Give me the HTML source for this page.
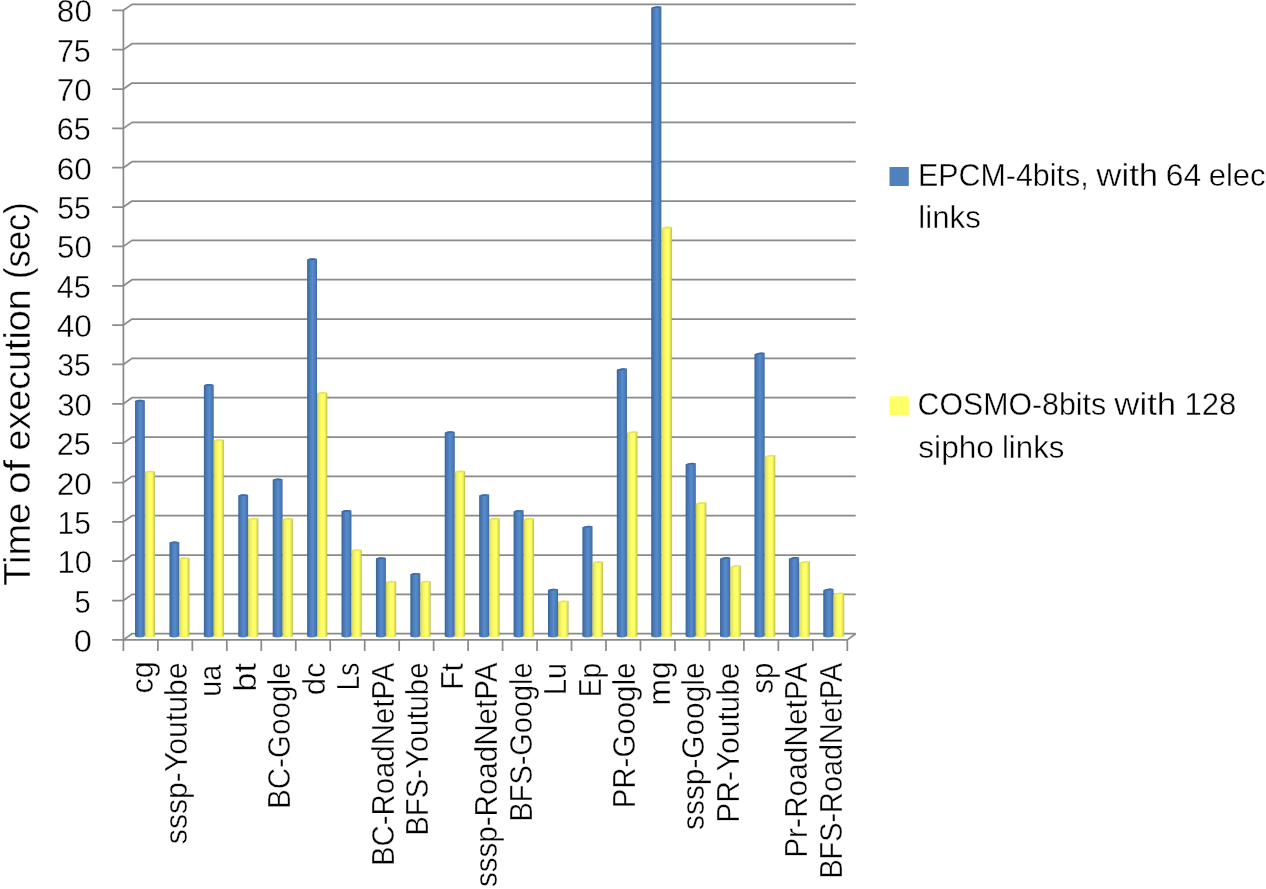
<!DOCTYPE html>
<html lang="en"><head><meta charset="utf-8"><title>Time of execution</title>
<style>html,body{margin:0;padding:0;background:#fff;}body{width:1266px;height:889px;overflow:hidden;}svg{display:block;}text{font-family:"Liberation Sans",sans-serif;fill:#000;stroke:#fff;stroke-width:0.4px;}</style>
</head><body>
<svg width="1266" height="889" viewBox="0 0 1266 889">
<defs>
<linearGradient id="gb" x1="0" x2="1" y1="0" y2="0"><stop offset="0" stop-color="#35608F"/><stop offset="0.15" stop-color="#4273AE"/><stop offset="0.55" stop-color="#588CCE"/><stop offset="0.85" stop-color="#4A78B4"/><stop offset="1" stop-color="#40699C"/></linearGradient>
<linearGradient id="gy" x1="0" x2="1" y1="0" y2="0"><stop offset="0" stop-color="#C2C23C"/><stop offset="0.12" stop-color="#E6E65C"/><stop offset="0.45" stop-color="#FFFF6A"/><stop offset="0.7" stop-color="#FFFF68"/><stop offset="0.9" stop-color="#DCDC50"/><stop offset="1" stop-color="#B0B052"/></linearGradient>
</defs>
<rect width="1266" height="889" fill="#fff"/>
<g fill="none" stroke="#8A8A8A" stroke-width="1.75" stroke-linejoin="round">
<path d="M112.2 639.90H123.4 L132.0 633.70H855.7"/>
<path d="M112.2 600.55H123.4 L132.0 594.37H855.7"/>
<path d="M112.2 561.20H123.4 L132.0 555.04H855.7"/>
<path d="M112.2 521.85H123.4 L132.0 515.71H855.7"/>
<path d="M112.2 482.50H123.4 L132.0 476.38H855.7"/>
<path d="M112.2 443.15H123.4 L132.0 437.04H855.7"/>
<path d="M112.2 403.80H123.4 L132.0 397.71H855.7"/>
<path d="M112.2 364.45H123.4 L132.0 358.38H855.7"/>
<path d="M112.2 325.10H123.4 L132.0 319.05H855.7"/>
<path d="M112.2 285.75H123.4 L132.0 279.72H855.7"/>
<path d="M112.2 246.40H123.4 L132.0 240.39H855.7"/>
<path d="M112.2 207.05H123.4 L132.0 201.06H855.7"/>
<path d="M112.2 167.70H123.4 L132.0 161.73H855.7"/>
<path d="M112.2 128.35H123.4 L132.0 122.39H855.7"/>
<path d="M112.2 89.00H123.4 L132.0 83.06H855.7"/>
<path d="M112.2 49.65H123.4 L132.0 43.73H855.7"/>
<path d="M112.2 10.30H123.4 L132.0 4.40H855.7"/>
<path d="M123.4 10.30V639.9"/>
<path d="M123.4 639.9H847.3L855.7 633.7"/>
<path d="M123.40 639.9V651"/>
<path d="M157.87 639.9V651"/>
<path d="M192.34 639.9V651"/>
<path d="M226.81 639.9V651"/>
<path d="M261.29 639.9V651"/>
<path d="M295.76 639.9V651"/>
<path d="M330.23 639.9V651"/>
<path d="M364.70 639.9V651"/>
<path d="M399.17 639.9V651"/>
<path d="M433.64 639.9V651"/>
<path d="M468.11 639.9V651"/>
<path d="M502.59 639.9V651"/>
<path d="M537.06 639.9V651"/>
<path d="M571.53 639.9V651"/>
<path d="M606.00 639.9V651"/>
<path d="M640.47 639.9V651"/>
<path d="M674.94 639.9V651"/>
<path d="M709.41 639.9V651"/>
<path d="M743.89 639.9V651"/>
<path d="M778.36 639.9V651"/>
<path d="M812.83 639.9V651"/>
<path d="M847.30 639.9V651"/>
</g>
<g>
<path d="M135.05 400.90 Q139.95 398.80 144.84 400.70 V636.30 Q139.95 638.50 135.05 636.60Z" fill="url(#gb)"/>
<path d="M135.05 400.90 Q139.95 398.80 144.84 400.70 Q139.95 402.80 135.05 400.90Z" fill="#3F6BA3"/>
<path d="M144.84 471.73 Q149.90 469.63 154.95 471.53 V636.30 Q149.90 638.50 144.84 636.60Z" fill="url(#gy)"/>
<path d="M144.84 471.73 Q149.90 469.63 154.95 471.53 Q149.90 473.63 144.84 471.73Z" fill="#E6E65E"/>
<path d="M169.46 542.59 Q174.37 540.46 179.28 542.33 V636.30 Q174.37 638.50 169.46 636.60Z" fill="url(#gb)"/>
<path d="M169.46 542.59 Q174.37 540.46 179.28 542.33 Q174.37 544.46 169.46 542.59Z" fill="#3F6BA3"/>
<path d="M179.28 558.33 Q184.34 556.20 189.41 558.07 V636.30 Q184.34 638.50 179.28 636.60Z" fill="url(#gy)"/>
<path d="M179.28 558.33 Q184.34 556.20 189.41 558.07 Q184.34 560.20 179.28 558.33Z" fill="#E6E65E"/>
<path d="M203.87 385.21 Q208.79 383.06 213.71 384.90 V636.30 Q208.79 638.50 203.87 636.60Z" fill="url(#gb)"/>
<path d="M203.87 385.21 Q208.79 383.06 213.71 384.90 Q208.79 387.06 203.87 385.21Z" fill="#3F6BA3"/>
<path d="M213.71 440.30 Q218.79 438.15 223.87 440.00 V636.30 Q218.79 638.50 213.71 636.60Z" fill="url(#gy)"/>
<path d="M213.71 440.30 Q218.79 438.15 223.87 440.00 Q218.79 442.15 213.71 440.30Z" fill="#E6E65E"/>
<path d="M238.28 495.42 Q243.22 493.24 248.15 495.06 V636.30 Q243.22 638.50 238.28 636.60Z" fill="url(#gb)"/>
<path d="M238.28 495.42 Q243.22 493.24 248.15 495.06 Q243.22 497.24 238.28 495.42Z" fill="#3F6BA3"/>
<path d="M248.15 519.03 Q253.24 516.85 258.33 518.67 V636.30 Q253.24 638.50 248.15 636.60Z" fill="url(#gy)"/>
<path d="M248.15 519.03 Q253.24 516.85 258.33 518.67 Q253.24 520.85 248.15 519.03Z" fill="#E6E65E"/>
<path d="M272.70 479.71 Q277.64 477.50 282.58 479.29 V636.30 Q277.64 638.50 272.70 636.60Z" fill="url(#gb)"/>
<path d="M272.70 479.71 Q277.64 477.50 282.58 479.29 Q277.64 481.50 272.70 479.71Z" fill="#3F6BA3"/>
<path d="M282.58 519.06 Q287.69 516.85 292.80 518.64 V636.30 Q287.69 638.50 282.58 636.60Z" fill="url(#gy)"/>
<path d="M282.58 519.06 Q287.69 516.85 292.80 518.64 Q287.69 520.85 282.58 519.06Z" fill="#E6E65E"/>
<path d="M307.11 259.38 Q312.06 257.14 317.02 258.90 V636.30 Q312.06 638.50 307.11 636.60Z" fill="url(#gb)"/>
<path d="M307.11 259.38 Q312.06 257.14 317.02 258.90 Q312.06 261.14 307.11 259.38Z" fill="#3F6BA3"/>
<path d="M317.02 393.17 Q322.14 390.93 327.26 392.69 V636.30 Q322.14 638.50 317.02 636.60Z" fill="url(#gy)"/>
<path d="M317.02 393.17 Q322.14 390.93 327.26 392.69 Q322.14 394.93 317.02 393.17Z" fill="#E6E65E"/>
<path d="M341.52 511.24 Q346.49 508.98 351.46 510.71 V636.30 Q346.49 638.50 341.52 636.60Z" fill="url(#gb)"/>
<path d="M341.52 511.24 Q346.49 508.98 351.46 510.71 Q346.49 512.98 341.52 511.24Z" fill="#3F6BA3"/>
<path d="M351.46 550.59 Q356.59 548.33 361.72 550.06 V636.30 Q356.59 638.50 351.46 636.60Z" fill="url(#gy)"/>
<path d="M351.46 550.59 Q356.59 548.33 361.72 550.06 Q356.59 552.33 351.46 550.59Z" fill="#E6E65E"/>
<path d="M375.93 558.49 Q380.91 556.20 385.89 557.91 V636.30 Q380.91 638.50 375.93 636.60Z" fill="url(#gb)"/>
<path d="M375.93 558.49 Q380.91 556.20 385.89 557.91 Q380.91 560.20 375.93 558.49Z" fill="#3F6BA3"/>
<path d="M385.89 582.10 Q391.04 579.81 396.18 581.52 V636.30 Q391.04 638.50 385.89 636.60Z" fill="url(#gy)"/>
<path d="M385.89 582.10 Q391.04 579.81 396.18 581.52 Q391.04 583.81 385.89 582.10Z" fill="#E6E65E"/>
<path d="M410.34 574.26 Q415.34 571.94 420.33 573.62 V636.30 Q415.34 638.50 410.34 636.60Z" fill="url(#gb)"/>
<path d="M410.34 574.26 Q415.34 571.94 420.33 573.62 Q415.34 575.94 410.34 574.26Z" fill="#3F6BA3"/>
<path d="M420.33 582.13 Q425.49 579.81 430.64 581.49 V636.30 Q425.49 638.50 420.33 636.60Z" fill="url(#gy)"/>
<path d="M420.33 582.13 Q425.49 579.81 430.64 581.49 Q425.49 583.81 420.33 582.13Z" fill="#E6E65E"/>
<path d="M444.75 432.63 Q449.76 430.28 454.77 431.93 V636.30 Q449.76 638.50 444.75 636.60Z" fill="url(#gb)"/>
<path d="M444.75 432.63 Q449.76 430.28 454.77 431.93 Q449.76 434.28 444.75 432.63Z" fill="#3F6BA3"/>
<path d="M454.77 471.98 Q459.93 469.63 465.10 471.28 V636.30 Q459.93 638.50 454.77 636.60Z" fill="url(#gy)"/>
<path d="M454.77 471.98 Q459.93 469.63 465.10 471.28 Q459.93 473.63 454.77 471.98Z" fill="#E6E65E"/>
<path d="M479.16 495.62 Q484.18 493.24 489.20 494.87 V636.30 Q484.18 638.50 479.16 636.60Z" fill="url(#gb)"/>
<path d="M479.16 495.62 Q484.18 493.24 489.20 494.87 Q484.18 497.24 479.16 495.62Z" fill="#3F6BA3"/>
<path d="M489.20 519.23 Q494.38 516.85 499.56 518.48 V636.30 Q494.38 638.50 489.20 636.60Z" fill="url(#gy)"/>
<path d="M489.20 519.23 Q494.38 516.85 499.56 518.48 Q494.38 520.85 489.20 519.23Z" fill="#E6E65E"/>
<path d="M513.58 511.38 Q518.61 508.98 523.64 510.58 V636.30 Q518.61 638.50 513.58 636.60Z" fill="url(#gb)"/>
<path d="M513.58 511.38 Q518.61 508.98 523.64 510.58 Q518.61 512.98 513.58 511.38Z" fill="#3F6BA3"/>
<path d="M523.64 519.25 Q528.83 516.85 534.03 518.45 V636.30 Q528.83 638.50 523.64 636.60Z" fill="url(#gy)"/>
<path d="M523.64 519.25 Q528.83 516.85 534.03 518.45 Q528.83 520.85 523.64 519.25Z" fill="#E6E65E"/>
<path d="M547.99 590.11 Q553.03 587.68 558.07 589.25 V636.30 Q553.03 638.50 547.99 636.60Z" fill="url(#gb)"/>
<path d="M547.99 590.11 Q553.03 587.68 558.07 589.25 Q553.03 591.68 547.99 590.11Z" fill="#3F6BA3"/>
<path d="M558.07 601.91 Q563.28 599.49 568.49 601.06 V636.30 Q563.28 638.50 558.07 636.60Z" fill="url(#gy)"/>
<path d="M558.07 601.91 Q563.28 599.49 568.49 601.06 Q563.28 603.49 558.07 601.91Z" fill="#E6E65E"/>
<path d="M582.40 527.18 Q587.45 524.72 592.51 526.26 V636.30 Q587.45 638.50 582.40 636.60Z" fill="url(#gb)"/>
<path d="M582.40 527.18 Q587.45 524.72 592.51 526.26 Q587.45 528.72 582.40 527.18Z" fill="#3F6BA3"/>
<path d="M592.51 562.59 Q597.73 560.13 602.95 561.68 V636.30 Q597.73 638.50 592.51 636.60Z" fill="url(#gy)"/>
<path d="M592.51 562.59 Q597.73 560.13 602.95 561.68 Q597.73 564.13 592.51 562.59Z" fill="#E6E65E"/>
<path d="M616.81 369.81 Q621.88 367.32 626.95 368.83 V636.30 Q621.88 638.50 616.81 636.60Z" fill="url(#gb)"/>
<path d="M616.81 369.81 Q621.88 367.32 626.95 368.83 Q621.88 371.32 616.81 369.81Z" fill="#3F6BA3"/>
<path d="M626.95 432.76 Q632.18 430.28 637.41 431.79 V636.30 Q632.18 638.50 626.95 636.60Z" fill="url(#gy)"/>
<path d="M626.95 432.76 Q632.18 430.28 637.41 431.79 Q632.18 434.28 626.95 432.76Z" fill="#E6E65E"/>
<path d="M651.22 7.81 Q656.30 5.30 661.38 6.79 V636.30 Q656.30 638.50 651.22 636.60Z" fill="url(#gb)"/>
<path d="M651.22 7.81 Q656.30 5.30 661.38 6.79 Q656.30 9.30 651.22 7.81Z" fill="#3F6BA3"/>
<path d="M661.38 228.17 Q666.63 225.66 671.87 227.15 V636.30 Q666.63 638.50 661.38 636.60Z" fill="url(#gy)"/>
<path d="M661.38 228.17 Q666.63 225.66 671.87 227.15 Q666.63 229.66 661.38 228.17Z" fill="#E6E65E"/>
<path d="M685.63 464.30 Q690.73 461.76 695.82 463.22 V636.30 Q690.73 638.50 685.63 636.60Z" fill="url(#gb)"/>
<path d="M685.63 464.30 Q690.73 461.76 695.82 463.22 Q690.73 465.76 685.63 464.30Z" fill="#3F6BA3"/>
<path d="M695.82 503.65 Q701.08 501.11 706.33 502.57 V636.30 Q701.08 638.50 695.82 636.60Z" fill="url(#gy)"/>
<path d="M695.82 503.65 Q701.08 501.11 706.33 502.57 Q701.08 505.11 695.82 503.65Z" fill="#E6E65E"/>
<path d="M720.04 558.77 Q725.15 556.20 730.25 557.63 V636.30 Q725.15 638.50 720.04 636.60Z" fill="url(#gb)"/>
<path d="M720.04 558.77 Q725.15 556.20 730.25 557.63 Q725.15 560.20 720.04 558.77Z" fill="#3F6BA3"/>
<path d="M730.25 566.64 Q735.52 564.07 740.79 565.50 V636.30 Q735.52 638.50 730.25 636.60Z" fill="url(#gy)"/>
<path d="M730.25 566.64 Q735.52 564.07 740.79 565.50 Q735.52 568.07 730.25 566.64Z" fill="#E6E65E"/>
<path d="M754.46 354.18 Q759.57 351.58 764.69 352.98 V636.30 Q759.57 638.50 754.46 636.60Z" fill="url(#gb)"/>
<path d="M754.46 354.18 Q759.57 351.58 764.69 352.98 Q759.57 355.58 754.46 354.18Z" fill="#3F6BA3"/>
<path d="M764.69 456.49 Q769.97 453.89 775.26 455.29 V636.30 Q769.97 638.50 764.69 636.60Z" fill="url(#gy)"/>
<path d="M764.69 456.49 Q769.97 453.89 775.26 455.29 Q769.97 457.89 764.69 456.49Z" fill="#E6E65E"/>
<path d="M788.87 558.82 Q794.00 556.20 799.13 557.58 V636.30 Q794.00 638.50 788.87 636.60Z" fill="url(#gb)"/>
<path d="M788.87 558.82 Q794.00 556.20 799.13 557.58 Q794.00 560.20 788.87 558.82Z" fill="#3F6BA3"/>
<path d="M799.13 562.76 Q804.42 560.13 809.72 561.51 V636.30 Q804.42 638.50 799.13 636.60Z" fill="url(#gy)"/>
<path d="M799.13 562.76 Q804.42 560.13 809.72 561.51 Q804.42 564.13 799.13 562.76Z" fill="#E6E65E"/>
<path d="M823.28 590.33 Q828.42 587.68 833.56 589.03 V636.30 Q828.42 638.50 823.28 636.60Z" fill="url(#gb)"/>
<path d="M823.28 590.33 Q828.42 587.68 833.56 589.03 Q828.42 591.68 823.28 590.33Z" fill="#3F6BA3"/>
<path d="M833.56 594.26 Q838.87 591.62 844.18 592.97 V636.30 Q838.87 638.50 833.56 636.60Z" fill="url(#gy)"/>
<path d="M833.56 594.26 Q838.87 591.62 844.18 592.97 Q838.87 595.62 833.56 594.26Z" fill="#E6E65E"/>
</g>
<g font-size="31.6">
<text x="73.80" y="651.90" textLength="18.16" lengthAdjust="spacingAndGlyphs">0</text>
<text x="74.59" y="612.55" textLength="16.18" lengthAdjust="spacingAndGlyphs">5</text>
<text x="57.42" y="573.20" textLength="34.48" lengthAdjust="spacingAndGlyphs">10</text>
<text x="57.50" y="533.85" textLength="33.32" lengthAdjust="spacingAndGlyphs">15</text>
<text x="56.76" y="494.50" textLength="35.17" lengthAdjust="spacingAndGlyphs">20</text>
<text x="56.81" y="455.15" textLength="34.04" lengthAdjust="spacingAndGlyphs">25</text>
<text x="57.22" y="415.80" textLength="34.69" lengthAdjust="spacingAndGlyphs">30</text>
<text x="57.26" y="376.45" textLength="33.57" lengthAdjust="spacingAndGlyphs">35</text>
<text x="56.72" y="337.10" textLength="35.21" lengthAdjust="spacingAndGlyphs">40</text>
<text x="56.74" y="297.75" textLength="34.12" lengthAdjust="spacingAndGlyphs">45</text>
<text x="57.12" y="258.40" textLength="34.79" lengthAdjust="spacingAndGlyphs">50</text>
<text x="57.16" y="219.05" textLength="33.67" lengthAdjust="spacingAndGlyphs">55</text>
<text x="56.76" y="179.70" textLength="35.17" lengthAdjust="spacingAndGlyphs">60</text>
<text x="56.81" y="140.35" textLength="34.04" lengthAdjust="spacingAndGlyphs">65</text>
<text x="56.83" y="101.00" textLength="35.09" lengthAdjust="spacingAndGlyphs">70</text>
<text x="56.89" y="61.65" textLength="33.96" lengthAdjust="spacingAndGlyphs">75</text>
<text x="56.85" y="22.30" textLength="35.08" lengthAdjust="spacingAndGlyphs">80</text>
</g>
<g font-size="31.6">
<text transform="translate(152.50 889) rotate(-90)" x="195.60" y="0" textLength="32.18" lengthAdjust="spacingAndGlyphs">cg</text>
<text transform="translate(186.97 889) rotate(-90)" x="44.82" y="0" textLength="181.70" lengthAdjust="spacingAndGlyphs">sssp-Youtube</text>
<text transform="translate(221.44 889) rotate(-90)" x="192.20" y="0" textLength="32.08" lengthAdjust="spacingAndGlyphs">ua</text>
<text transform="translate(255.91 889) rotate(-90)" x="197.23" y="0" textLength="28.83" lengthAdjust="spacingAndGlyphs">bt</text>
<text transform="translate(290.39 889) rotate(-90)" x="80.03" y="0" textLength="146.45" lengthAdjust="spacingAndGlyphs">BC-Google</text>
<text transform="translate(324.86 889) rotate(-90)" x="193.81" y="0" textLength="32.74" lengthAdjust="spacingAndGlyphs">dc</text>
<text transform="translate(359.33 889) rotate(-90)" x="198.73" y="0" textLength="27.46" lengthAdjust="spacingAndGlyphs">Ls</text>
<text transform="translate(393.80 889) rotate(-90)" x="22.94" y="0" textLength="203.42" lengthAdjust="spacingAndGlyphs">BC-RoadNetPA</text>
<text transform="translate(428.27 889) rotate(-90)" x="53.19" y="0" textLength="173.26" lengthAdjust="spacingAndGlyphs">BFS-Youtube</text>
<text transform="translate(462.74 889) rotate(-90)" x="198.95" y="0" textLength="27.05" lengthAdjust="spacingAndGlyphs">Ft</text>
<text transform="translate(497.21 889) rotate(-90)" x="1.99" y="0" textLength="224.38" lengthAdjust="spacingAndGlyphs">sssp-RoadNetPA</text>
<text transform="translate(531.69 889) rotate(-90)" x="67.49" y="0" textLength="158.96" lengthAdjust="spacingAndGlyphs">BFS-Google</text>
<text transform="translate(566.16 889) rotate(-90)" x="193.89" y="0" textLength="32.10" lengthAdjust="spacingAndGlyphs">Lu</text>
<text transform="translate(600.63 889) rotate(-90)" x="191.71" y="0" textLength="34.63" lengthAdjust="spacingAndGlyphs">Ep</text>
<text transform="translate(635.10 889) rotate(-90)" x="80.68" y="0" textLength="145.78" lengthAdjust="spacingAndGlyphs">PR-Google</text>
<text transform="translate(669.57 889) rotate(-90)" x="183.17" y="0" textLength="44.73" lengthAdjust="spacingAndGlyphs">mg</text>
<text transform="translate(704.04 889) rotate(-90)" x="59.10" y="0" textLength="167.40" lengthAdjust="spacingAndGlyphs">sssp-Google</text>
<text transform="translate(738.51 889) rotate(-90)" x="66.37" y="0" textLength="160.14" lengthAdjust="spacingAndGlyphs">PR-Youtube</text>
<text transform="translate(772.99 889) rotate(-90)" x="195.34" y="0" textLength="31.06" lengthAdjust="spacingAndGlyphs">sp</text>
<text transform="translate(807.46 889) rotate(-90)" x="31.21" y="0" textLength="195.16" lengthAdjust="spacingAndGlyphs">Pr-RoadNetPA</text>
<text transform="translate(841.93 889) rotate(-90)" x="10.38" y="0" textLength="215.99" lengthAdjust="spacingAndGlyphs">BFS-RoadNetPA</text>
</g>
<text font-size="37.6" transform="translate(30.4 889) rotate(-90)" y="0"><tspan x="303.26" textLength="82.96" lengthAdjust="spacingAndGlyphs">Time</tspan> <tspan x="395.00" textLength="33.94" lengthAdjust="spacingAndGlyphs">of</tspan> <tspan x="438.42" textLength="161.37" lengthAdjust="spacingAndGlyphs">execution</tspan> <tspan x="609.97" textLength="76.76" lengthAdjust="spacingAndGlyphs">(sec)</tspan></text>
<rect x="889.5" y="167" width="19.3" height="19" fill="#4F81BD"/>
<rect x="889.5" y="396.3" width="19.3" height="18.7" fill="#FFFF66"/>
<g font-size="31.6">
<text y="186"><tspan x="917.92" textLength="170.71" lengthAdjust="spacingAndGlyphs">EPCM-4bits,</tspan> <tspan x="1096.31" textLength="61.94" lengthAdjust="spacingAndGlyphs">with</tspan> <tspan x="1165.89" textLength="35.41" lengthAdjust="spacingAndGlyphs">64</tspan> <tspan x="1208.64" textLength="57.04" lengthAdjust="spacingAndGlyphs">elec</tspan></text>
<text y="228"><tspan x="918.36" textLength="62.38" lengthAdjust="spacingAndGlyphs">links</tspan></text>
<text y="414.8"><tspan x="917.59" textLength="188.48" lengthAdjust="spacingAndGlyphs">COSMO-8bits</tspan> <tspan x="1114.25" textLength="61.94" lengthAdjust="spacingAndGlyphs">with</tspan> <tspan x="1184.52" textLength="51.80" lengthAdjust="spacingAndGlyphs">128</tspan></text>
<text y="457.5"><tspan x="918.32" textLength="75.52" lengthAdjust="spacingAndGlyphs">sipho</tspan> <tspan x="1001.95" textLength="62.38" lengthAdjust="spacingAndGlyphs">links</tspan></text>
</g>
</svg></body></html>
